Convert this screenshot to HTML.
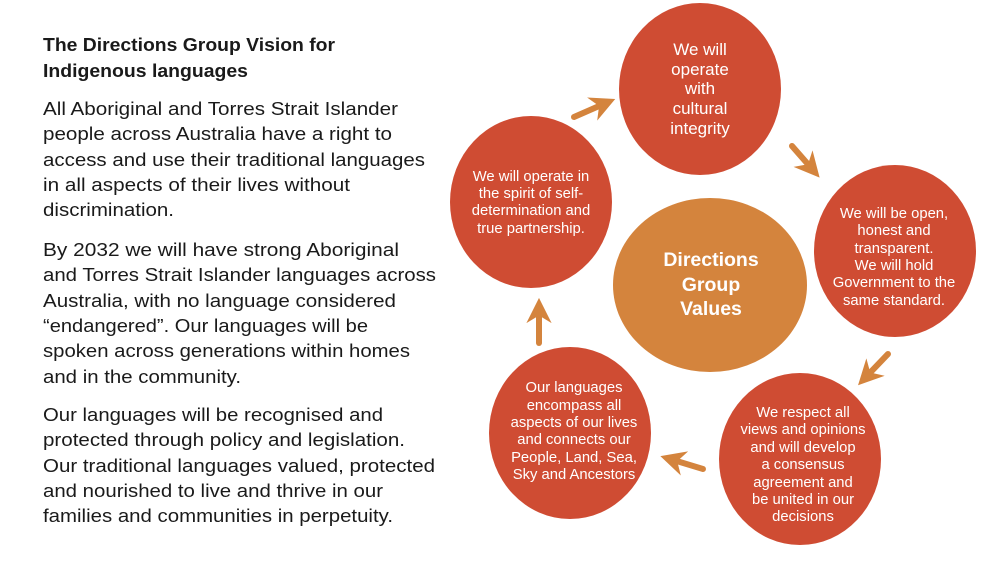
<!DOCTYPE html>
<html><head><meta charset="utf-8"><style>
html,body{margin:0;padding:0;background:#fff;width:1000px;height:568px;overflow:hidden}
svg{display:block}
.l{font-family:"Liberation Sans",sans-serif;font-size:18.5px;fill:#1a1a1a}
.b{font-weight:bold}
.c{font-family:"Liberation Sans",sans-serif;font-size:14.8px;fill:#fff;text-anchor:middle}
.t{font-size:17px}
.m{font-family:"Liberation Sans",sans-serif;font-size:19.5px;font-weight:bold;fill:#fff;text-anchor:middle}
</style></head><body>
<svg width="1000" height="568" viewBox="0 0 1000 568">
<defs><marker id="a" viewBox="0 0 10 10" refX="6" refY="5" markerWidth="4.2" markerHeight="4.2" orient="auto"><path d="M0,0 L10,5 L0,10 L3,5 Z" fill="#d4843d"/></marker></defs>
<g class="l">
<text x="43" y="51" class="b" textLength="292" lengthAdjust="spacingAndGlyphs">The Directions Group Vision for</text>
<text x="43" y="77" class="b" textLength="205" lengthAdjust="spacingAndGlyphs">Indigenous languages</text>
<text x="43" y="115" textLength="355" lengthAdjust="spacingAndGlyphs">All Aboriginal and Torres Strait Islander</text>
<text x="43" y="140" textLength="349" lengthAdjust="spacingAndGlyphs">people across Australia have a right to</text>
<text x="43" y="166" textLength="382" lengthAdjust="spacingAndGlyphs">access and use their traditional languages</text>
<text x="43" y="191" textLength="307" lengthAdjust="spacingAndGlyphs">in all aspects of their lives without</text>
<text x="43" y="216" textLength="131" lengthAdjust="spacingAndGlyphs">discrimination.</text>
<text x="43" y="256" textLength="356" lengthAdjust="spacingAndGlyphs">By 2032 we will have strong Aboriginal</text>
<text x="43" y="281" textLength="393" lengthAdjust="spacingAndGlyphs">and Torres Strait Islander languages across</text>
<text x="43" y="307" textLength="353" lengthAdjust="spacingAndGlyphs">Australia, with no language considered</text>
<text x="43" y="332" textLength="325" lengthAdjust="spacingAndGlyphs">“endangered”. Our languages will be</text>
<text x="43" y="357" textLength="367" lengthAdjust="spacingAndGlyphs">spoken across generations within homes</text>
<text x="43" y="383" textLength="198" lengthAdjust="spacingAndGlyphs">and in the community.</text>
<text x="43" y="421" textLength="340" lengthAdjust="spacingAndGlyphs">Our languages will be recognised and</text>
<text x="43" y="446" textLength="362" lengthAdjust="spacingAndGlyphs">protected through policy and legislation.</text>
<text x="43" y="472" textLength="392" lengthAdjust="spacingAndGlyphs">Our traditional languages valued, protected</text>
<text x="43" y="497" textLength="340" lengthAdjust="spacingAndGlyphs">and nourished to live and thrive in our</text>
<text x="43" y="522" textLength="350" lengthAdjust="spacingAndGlyphs">families and communities in perpetuity.</text>
</g>
<g fill="#cf4c33">
<ellipse cx="700" cy="89" rx="81" ry="86"/>
<ellipse cx="531" cy="202" rx="81" ry="86"/>
<ellipse cx="895" cy="251" rx="81" ry="86"/>
<ellipse cx="800" cy="459" rx="81" ry="86"/>
<ellipse cx="570" cy="433" rx="81" ry="86"/>
</g>
<ellipse cx="710" cy="285" rx="97" ry="87" fill="#d4843d"/>
<g stroke="#d4843d" stroke-width="6" stroke-linecap="round" marker-end="url(#a)" fill="none">
<line x1="574" y1="117" x2="606" y2="103"/>
<line x1="792" y1="146" x2="813" y2="170"/>
<line x1="888" y1="354" x2="865" y2="378"/>
<line x1="703" y1="469" x2="670" y2="459"/>
<line x1="539" y1="343" x2="539" y2="308"/>
</g>
<g class="c">
<g class="t"><text x="700" y="55">We will</text><text x="700" y="75">operate</text><text x="700" y="94">with</text><text x="700" y="114">cultural</text><text x="700" y="134">integrity</text></g>
<text x="531" y="181">We will operate in</text><text x="531" y="198">the spirit of self-</text><text x="531" y="215">determination and</text><text x="531" y="233">true partnership.</text>
<text x="894" y="218">We will be open,</text><text x="894" y="235">honest and</text><text x="894" y="253">transparent.</text><text x="894" y="270">We will hold</text><text x="894" y="287">Government to the</text><text x="894" y="305">same standard.</text>
<text x="803" y="417">We respect all</text><text x="803" y="434">views and opinions</text><text x="803" y="452">and will develop</text><text x="803" y="469">a consensus</text><text x="803" y="487">agreement and</text><text x="803" y="504">be united in our</text><text x="803" y="521">decisions</text>
<text x="574" y="392">Our languages</text><text x="574" y="410">encompass all</text><text x="574" y="427">aspects of our lives</text><text x="574" y="444">and connects our</text><text x="574" y="462">People, Land, Sea,</text><text x="574" y="479">Sky and Ancestors</text>
</g>
<g class="m">
<text x="711" y="266">Directions</text><text x="711" y="291">Group</text><text x="711" y="315">Values</text>
</g>
</svg>
</body></html>
